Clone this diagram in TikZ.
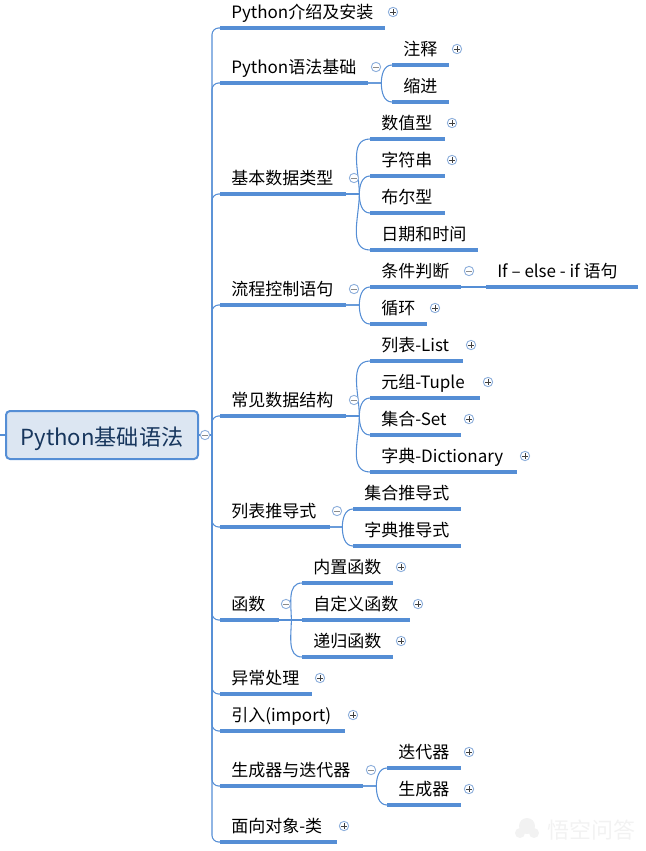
\documentclass[tikz,border=0pt]{standalone}
\usepackage{fontspec}
\setmainfont{Noto Sans CJK SC}
\definecolor{linkblue}{HTML}{558ED5}
\definecolor{rootfill}{HTML}{DCE6F2}
\definecolor{roottext}{HTML}{17365D}
\definecolor{btnblue}{HTML}{8FB0DC}
\tikzset{
	rootbox/.style={draw=linkblue, line width=1.5pt, fill=rootfill, rounded corners=3pt, minimum width=144pt, minimum height=36pt, inner sep=0pt, text height=18pt, text depth=3pt, text=roottext, font=\fontsize{16.6}{18}\selectfont},
	toptext/.style={anchor=base west, inner sep=0pt, font=\fontsize{12.75}{14}\selectfont},
	bar/.style={linkblue, line width=2.4pt},
	link/.style={linkblue, line width=0.8pt},
	btn/.style={circle, draw=btnblue, fill=white, line width=0.7pt, minimum size=7pt, inner sep=0pt},
	plusbtn/.style={btn, path picture={
		\draw[black!75, line width=0.6pt] ([xshift=-2pt]path picture bounding box.center) -- ([xshift=2pt]path picture bounding box.center);
		\draw[black!75, line width=0.6pt] ([yshift=-2pt]path picture bounding box.center) -- ([yshift=2pt]path picture bounding box.center);}},
	minusbtn/.style={btn, path picture={
		\draw[black!45, line width=0.6pt] ([xshift=-2pt]path picture bounding box.center) -- ([xshift=2pt]path picture bounding box.center);}},
}
\begin{document}
\begin{tikzpicture}[x=0.75pt, y=-0.75pt]
\useasboundingbox (0,0) rectangle (646,851);

%root
	\node[rootbox] (root) at (102,435) {Python基础语法};
	\node[minusbtn] (rootbtn) at (205,435) {};
	\coordinate (stub) at (0,435);
	\coordinate (trunk) at (212,435);
	\draw[link] (stub) -- (root);
	\draw[link] (root) -- (rootbtn);
	\draw[link] (rootbtn) -- (trunk);

%bars and texts
	\foreach \x/\xe/\y/\name/\txt in {
		220/385/28/intro/Python介绍及安装,
		220/368/83/syntax/Python语法基础,
		220/346/194/types/基本数据类型,
		220/346/305/flow/流程控制语句,
		220/346/416/struct/常见数据结构,
		220/330/527/compr/列表推导式,
		220/279/620/func/函数,
		220/312/694/except/异常处理,
		220/345/731/import/{引入(import)},
		220/363/786/gen/生成器与迭代器,
		220/337/842/oop/面向对象-类,
		392/449/65/note/注释,
		392/449/102/indent/缩进,
		370/445/139/num/数值型,
		370/445/176/str/字符串,
		370/445/213/bool/布尔型,
		370/478/250/date/日期和时间,
		370/461/287/cond/条件判断,
		486/638/287/ifelse/{If\ – else\ - if\ 语句},
		370/427/324/loop/循环,
		370/463/361/list/列表-List,
		370/480/398/tuple/元组-Tuple,
		370/461/435/set/集合-Set,
		370/517/472/dict/字典-Dictionary,
		353/461/509/setc/集合推导式,
		353/461/546/dictc/字典推导式,
		302/393/583/builtin/内置函数,
		302/410/620/custom/自定义函数,
		302/393/657/recur/递归函数,
		387/461/768/iter/迭代器,
		387/461/805/genr/生成器}{
		\coordinate (\name) at (\x,\y);
		\coordinate (\name-e) at (\xe,\y);
		\draw[bar] (\name) -- (\name-e);
		\node[toptext] (\name-t) at (\x+11,\y-9.5) {\txt};
	}

%trunk
	\foreach \name in {intro, syntax, types, flow, struct, compr, func, except, import, gen, oop}{
		\draw[link, rounded corners=5pt] (trunk) |- (\name);
	}

%branches
	\foreach \from/\to/\ang in {
		syntax/note/90, syntax/indent/270,
		types/num/90, types/str/90, types/bool/270, types/date/270,
		flow/cond/90, flow/loop/270,
		struct/list/90, struct/tuple/90, struct/set/270, struct/dict/270,
		compr/setc/90, compr/dictc/270,
		func/builtin/90, func/recur/270,
		gen/iter/90, gen/genr/270}{
		\draw[link] (\from-e) -- ([xshift=-8pt]\to |- \from-e) to[out=\ang, in=180] (\to);
	}
	\draw[link] (func-e) -- (custom);
	\draw[link] (cond-e) -- (ifelse);

%buttons
	\foreach \xy/\name in {{(393,12)/intro},{(457,49)/note},{(452,123)/num},{(452,160)/str},{(435,308)/loop},{(471,345)/list},{(488,382)/tuple},{(469,419)/set},{(525,456)/dict},{(401,567)/builtin},{(418,604)/custom},{(401,641)/recur},{(320,678)/except},{(353,715)/import},{(469,752)/iter},{(469,789)/genr},{(344,826)/oop}}{
		\node[plusbtn] (\name-b) at \xy {};
	}
	\foreach \xy/\name in {{(376,67)/syntax},{(354,178)/types},{(354,289)/flow},{(469,271)/cond},{(354,400)/struct},{(337,511)/compr},{(286,604)/func},{(371,770)/gen}}{
		\node[minusbtn] (\name-b) at \xy {};
	}

%watermark
	\node[anchor=west, inner sep=0pt, text=black!5, font=\fontsize{16.5}{18}\selectfont] (mark) at (547,830) {悟空问答};
	\fill[black!5] (527,826) circle (8) (520,833) circle (5) (534,833) circle (5);

\end{tikzpicture}
\end{document}
